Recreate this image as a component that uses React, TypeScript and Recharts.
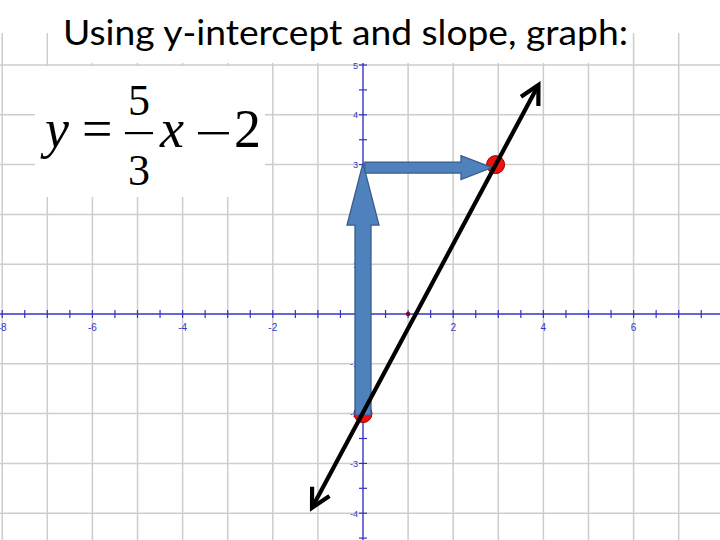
import React from "react";
import { ComposedChart, XAxis, YAxis, ReferenceLine, Scatter } from "recharts";

// grid lines (one unit apart)
const gridX = [-8, -7, -6, -5, -4, -3, -2, -1, 1, 2, 3, 4, 5, 6, 7];
const gridY = [-4, -3, -2, -1, 1, 2, 3, 4, 5];

// small tick marks on the axes (every half unit) and their labels
const xTickPos = [-8, -7.5, -7, -6.5, -6, -5.5, -5, -4.5, -4, -3.5, -3, -2.5, -2, -1.5, -1, -0.5, 0.5, 1, 1.5, 2, 2.5, 3, 3.5, 4, 4.5, 5, 5.5, 6, 6.5, 7, 7.5];
const xLabelPos = [-8, -6, -4, -2, 2, 4, 6];
const yTickPos = [-4.5, -4, -3.5, -3, -2.5, -2, -1.5, -1, -0.5, 0.5, 1, 1.5, 2, 2.5, 3, 3.5, 4, 4.5, 5, 5.5];
const yLabelPos = [-4, -3, -2, -1, 1, 2, 3, 4, 5];

// the graphed line y = 5/3 x - 2 (arrow tip to arrow tip)
const lineX = [-1.13, 3.89];
const lineY = [-3.89, 4.6];

// plotted points
const pointX = [0, 2.94];
const pointY = [-2, 3];
const strayX = [1];
const strayY = [0];

// rise and run arrows (tail, tip)
const riseX = [0, 0];
const riseY = [-2.03, 3.03];
const runX = [0.04, 2.86];
const runY = [2.94, 2.94];

const AXIS = "#3434c4";
const GRID = "#cdcdcd";

const pairs = (xs: number[], ys: number[]) => xs.map((x, i) => ({ x, y: ys[i] }));
const xTicks = xTickPos.map((x) => ({ x, y: 0, label: xLabelPos.includes(x) ? String(x) : "" }));
const yTicks = yTickPos.map((y) => ({ x: 0, y, label: yLabelPos.includes(y) ? String(y) : "" }));
const lineData = pairs(lineX, lineY);
const pointData = pairs(pointX, pointY);
const strayData = pairs(strayX, strayY);
const riseData = pairs(riseX, riseY);
const runData = pairs(runX, runY);

const XTick = (p: any) => (
  <g>
    <line x1={p.cx} y1={p.cy - 4} x2={p.cx} y2={p.cy + 4} stroke={AXIS} strokeWidth={1.2} />
    {p.payload.label && (
      <text x={p.cx} y={p.cy + 17} textAnchor="middle" fontSize={10} fill={AXIS} fontFamily="Liberation Sans, Arial, sans-serif">
        {p.payload.label}
      </text>
    )}
  </g>
);

const YTick = (p: any) => (
  <g>
    <line x1={p.cx - 4} y1={p.cy} x2={p.cx + 4} y2={p.cy} stroke={AXIS} strokeWidth={1.2} />
    {p.payload.label && (
      <text x={p.cx - 5} y={p.cy + 3.5} textAnchor="end" fontSize={9} fill={AXIS} fontFamily="Liberation Sans, Arial, sans-serif">
        {p.payload.label}
      </text>
    )}
  </g>
);

const RedDot = (p: any) => <circle cx={p.cx} cy={p.cy} r={9} fill="#ee1111" stroke="#9a0000" strokeWidth={1} />;
const StrayDot = (p: any) => <circle cx={p.cx} cy={p.cy} r={2.2} fill="#7a0a2a" />;
const NoDot = () => <g />;

// block arrow drawn along the two scaled points of a Scatter
function blockArrow(sw: number, hw: number, hl: number) {
  return (p: any) => {
    const a = p.points[0];
    const b = p.points[p.points.length - 1];
    const len = Math.hypot(b.x - a.x, b.y - a.y) || 1;
    const ux = (b.x - a.x) / len;
    const uy = (b.y - a.y) / len;
    const nx = -uy;
    const ny = ux;
    const bx = b.x - ux * hl;
    const by = b.y - uy * hl;
    const pts = [
      [a.x + nx * sw, a.y + ny * sw],
      [bx + nx * sw, by + ny * sw],
      [bx + nx * hw, by + ny * hw],
      [b.x, b.y],
      [bx - nx * hw, by - ny * hw],
      [bx - nx * sw, by - ny * sw],
      [a.x - nx * sw, a.y - ny * sw],
    ];
    return <polygon points={pts.map((q) => q.join(",")).join(" ")} fill="#4f81bd" stroke="#385d8a" strokeWidth={1.3} />;
  };
}

// black line with an open arrowhead at both ends
const ArrowLine = (p: any) => {
  const a = p.points[0];
  const b = p.points[p.points.length - 1];
  const arm = 21;
  const spread = (28 * Math.PI) / 180;
  const head = (tip: any, from: any) => {
    const ang = Math.atan2(from.y - tip.y, from.x - tip.x);
    const l = [tip.x + arm * Math.cos(ang - spread), tip.y + arm * Math.sin(ang - spread)];
    const r = [tip.x + arm * Math.cos(ang + spread), tip.y + arm * Math.sin(ang + spread)];
    return `M ${l[0]} ${l[1]} L ${tip.x} ${tip.y} L ${r[0]} ${r[1]}`;
  };
  return (
    <g fill="none" stroke="#000" strokeWidth={4.2} strokeLinejoin="miter">
      <path d={`M ${a.x} ${a.y} L ${b.x} ${b.y}`} />
      <path d={head(a, b)} />
      <path d={head(b, a)} />
    </g>
  );
};

export default function App() {
  return (
    <div style={{ position: "absolute", left: 0, top: 0, width: 720, height: 540, overflow: "hidden", background: "#fff" }}>
      <ComposedChart width={720} height={540} margin={{ top: 33, right: 0, bottom: 0, left: 0 }}>
        <XAxis dataKey="x" type="number" domain={[-8.049, 7.916]} allowDataOverflow hide />
        <YAxis dataKey="y" type="number" domain={[-4.538, 5.643]} allowDataOverflow hide />
        {gridX.map((x) => (
          <ReferenceLine key={`gx${x}`} x={x} stroke={GRID} strokeWidth={1.5} />
        ))}
        {gridY.map((y) => (
          <ReferenceLine key={`gy${y}`} y={y} stroke={GRID} strokeWidth={1.5} />
        ))}
        <ReferenceLine y={0} stroke={AXIS} strokeWidth={1.4} />
        <ReferenceLine x={0} stroke={AXIS} strokeWidth={1.4} />
        <Scatter data={xTicks} shape={XTick} isAnimationActive={false} />
        <Scatter data={yTicks} shape={YTick} isAnimationActive={false} />
        <Scatter data={strayData} shape={StrayDot} isAnimationActive={false} />
        <Scatter data={pointData} shape={RedDot} isAnimationActive={false} />
        <Scatter data={riseData} shape={NoDot} line={blockArrow(8, 16, 62)} isAnimationActive={false} />
        <Scatter data={runData} shape={NoDot} line={blockArrow(5.5, 12, 31)} isAnimationActive={false} />
        <Scatter data={lineData} shape={NoDot} line={ArrowLine} isAnimationActive={false} />
      </ComposedChart>
      <svg width={720} height={540} style={{ position: "absolute", left: 0, top: 0, pointerEvents: "none" }}>
        <rect x={55} y={0} width={565} height={63} fill="#fff" />
        <text x={63} y={45} fontSize={34} fontFamily="Lato, 'Open Sans', sans-serif" fill="#000" textLength={565} lengthAdjust="spacingAndGlyphs">
          Using y-intercept and slope, graph:
        </text>
        <rect x={35} y={66} width={230} height={131} fill="#fff" />
        <g fontFamily="'Liberation Serif', 'Times New Roman', serif" fill="#000">
          <text x={45} y={147} fontSize={54} fontStyle="italic">y</text>
          <text x={82} y={147} fontSize={54}>=</text>
          <text x={139} y={115} fontSize={44} textAnchor="middle">5</text>
          <rect x={125} y={132} width={28} height={2.2} />
          <text x={139} y={185} fontSize={44} textAnchor="middle">3</text>
          <text x={160} y={147} fontSize={54} fontStyle="italic">x</text>
          <rect x={198} y={132} width={31} height={2.4} />
          <text x={234} y={147} fontSize={54}>2</text>
        </g>
      </svg>
    </div>
  );
}
